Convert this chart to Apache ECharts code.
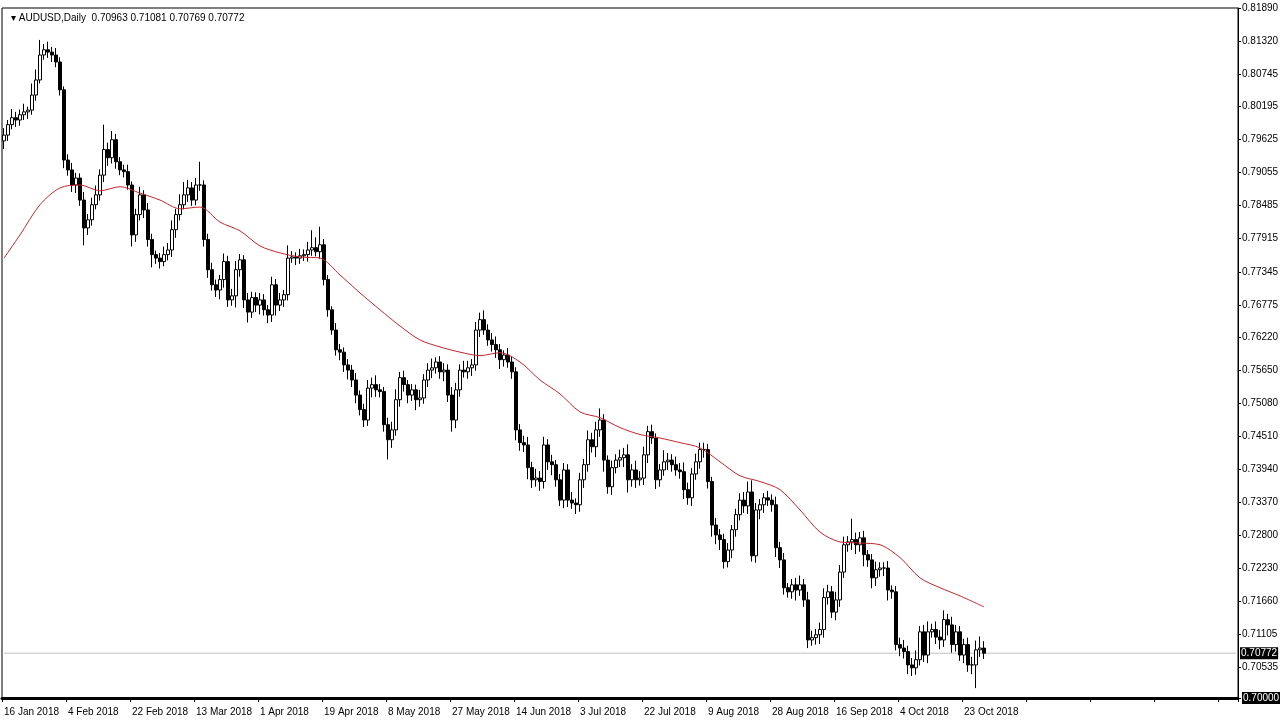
<!DOCTYPE html>
<html>
<head>
<meta charset="utf-8">
<script src="https://cdn.jsdelivr.net/npm/echarts@6/dist/echarts.min.js"></script>
<style>
  html, body { margin: 0; padding: 0; background: #fff; }
  #chart { width: 1280px; height: 720px; }
</style>
</head>
<body>
<div id="chart"></div>
<script>
// daily closes AUDUSD, 16 Jan 2018 onward
var closes = [
  0.7970,0.7988,0.8000,0.7996,0.8005, 0.8010,0.8013,0.8039,0.8065,0.8108,
  0.8117,0.8113,0.8108,0.8096,0.8048, 0.7927,0.7910,0.7884,0.7896,0.7858,
  0.7810,0.7824,0.7850,0.7867,0.7901, 0.7945,0.7931,0.7962,0.7924,0.7910,
  0.7907,0.7884,0.7798,0.7833,0.7867, 0.7841,0.7790,0.7764,0.7758,0.7752,
  0.7764,0.7772,0.7807,0.7833,0.7850, 0.7867,0.7879,0.7858,0.7884,0.7884,
  0.7790,0.7738,0.7712,0.7703,0.7721, 0.7752,0.7686,0.7693,0.7738,0.7755,
  0.7686,0.7665,0.7690,0.7677,0.7686, 0.7669,0.7660,0.7712,0.7677,0.7686,
  0.7695,0.7758,0.7760,0.7758,0.7762, 0.7764,0.7772,0.7776,0.7769,0.7781,
  0.7721,0.7669,0.7634,0.7600,0.7596, 0.7574,0.7565,0.7548,0.7522,0.7497,
  0.7479,0.7534,0.7540,0.7531,0.7528, 0.7471,0.7445,0.7462,0.7514,0.7552,
  0.7540,0.7522,0.7531,0.7514,0.7517, 0.7548,0.7565,0.7569,0.7579,0.7562,
  0.7565,0.7522,0.7479,0.7531,0.7565, 0.7562,0.7569,0.7574,0.7634,0.7652,
  0.7634,0.7617,0.7609,0.7600,0.7583, 0.7591,0.7579,0.7562,0.7462,0.7440,
  0.7436,0.7397,0.7376,0.7379,0.7373, 0.7436,0.7407,0.7402,0.7376,0.7341,
  0.7393,0.7341,0.7336,0.7333,0.7376, 0.7402,0.7445,0.7433,0.7462,0.7479,
  0.7410,0.7364,0.7397,0.7410,0.7414, 0.7419,0.7376,0.7393,0.7376,0.7379,
  0.7419,0.7459,0.7448,0.7376,0.7393, 0.7407,0.7410,0.7402,0.7393,0.7390,
  0.7359,0.7345,0.7386,0.7407,0.7428, 0.7428,0.7373,0.7298,0.7281,0.7273,
  0.7235,0.7255,0.7290,0.7316,0.7341, 0.7331,0.7355,0.7245,0.7324,0.7333,
  0.7345,0.7341,0.7333,0.7259,0.7238, 0.7190,0.7183,0.7195,0.7186,0.7195,
  0.7169,0.7100,0.7104,0.7109,0.7118, 0.7173,0.7183,0.7148,0.7169,0.7217,
  0.7264,0.7269,0.7273,0.7264,0.7276, 0.7247,0.7238,0.7207,0.7221,0.7224,
  0.7224,0.7186,0.7183,0.7092,0.7086, 0.7080,0.7057,0.7052,0.7066,0.7114,
  0.7074,0.7114,0.7118,0.7105,0.7100, 0.7135,0.7126,0.7092,0.7114,0.7074,
  0.7092,0.7057,0.7057,0.7083,0.7086, 0.70772
];
var firstOpen = 0.7960;
// wick lengths in pips above / below the candle body
var wickUp = [
  12,8,15,10,9,14,6,20,18,26, 10,14,9,12,8,6,10,12,9,8,
  14,10,12,16,10,43,12,15,10,8, 9,12,6,10,14,8,12,10,7,9,
  14,12,16,10,18,22,14,10,12,40, 8,10,12,9,8,14,10,12,15,10,
  8,12,10,9,12,10,8,14,10,12, 8,22,10,8,12,9,14,30,18,31,
  10,8,6,12,10,8,10,9,12,8, 10,14,12,16,10,8,12,14,18,10,
  12,8,10,9,14,10,12,16,8,10, 12,10,14,12,10,16,12,10,14,12,
  16,10,12,14,10,8,12,10,8,10, 12,14,10,16,12,14,10,12,8,10,
  12,10,14,8,12,10,16,12,14,20, 10,8,12,10,14,12,18,10,16,12,
  14,10,12,8,10,20,12,10,14,12, 16,12,10,14,12,12,10,8,12,10,
  10,12,8,10,12,14,18,20,12,10, 8,12,10,14,10,12,8,10,12,16,
  10,14,12,10,12,16,12,10,14,12, 14,10,36,12,10,12,8,10,14,10,
  10,12,8,10,12,14,10,12,16,10, 12,18,10,14,12,16,10,14,12,10,
  10,12,14,16,20,12
];
var wickDn = [
  14,10,8,12,10,9,12,8,10,6, 8,10,12,9,10,14,10,12,14,10,
  30,12,10,8,10,12,14,10,12,9, 10,8,20,12,10,14,12,22,10,12,
  8,10,12,14,10,8,12,10,9,10, 12,14,10,12,16,14,12,10,20,12,
  14,18,10,12,16,10,14,12,18,10, 12,10,8,12,10,9,12,10,8,12,
  10,12,8,10,14,12,16,12,14,10, 12,10,16,12,10,12,34,14,10,12,
  12,14,10,18,12,10,12,14,10,12, 16,12,20,14,12,10,12,14,10,12,
  8,10,12,14,16,12,10,12,18,14, 12,20,14,12,16,12,14,18,12,10,
  14,12,10,16,12,14,12,10,18,12, 20,12,14,10,12,16,22,12,14,10,
  12,14,10,16,12,10,14,12,10,12, 16,12,14,10,12,14,12,20,16,18,
  12,10,14,12,10,12,14,10,12,16, 14,10,12,16,14,12,10,12,18,10,
  12,14,10,12,16,14,12,10,14,12, 10,12,14,16,12,20,12,18,14,12,
  14,18,12,10,14,12,16,14,12,10, 12,14,10,12,16,12,18,14,12,10,
  14,12,16,40,12,10
];
// moving average (red line), read at sampled bars
var maPoints = [
  [0,0.7758],[4,0.7798],[9,0.7850],[14,0.7879],[19,0.7884],[24,0.7874],
  [29,0.7881],[34,0.7870],[39,0.7858],[44,0.7843],[49,0.7846],[54,0.7820],
  [59,0.7805],[64,0.7779],[69,0.7767],[74,0.7760],[79,0.7758],[84,0.7729],
  [89,0.7698],[94,0.7669],[99,0.7641],[104,0.7617],[109,0.7605],[114,0.7596],
  [119,0.7590],[124,0.7595],[129,0.7579],[134,0.7548],[139,0.7524],[144,0.7493],
  [149,0.7483],[154,0.7466],[159,0.7454],[164,0.7448],[169,0.7440],[174,0.7431],
  [179,0.7407],[184,0.7383],[189,0.7373],[194,0.7359],[199,0.7324],[204,0.7286],
  [209,0.7269],[214,0.7267],[219,0.7264],[224,0.7242],[229,0.7207],[234,0.7190],
  [239,0.7176],[245,0.7157]
];
var priceTicks = [0.70000,0.70535,0.71105,0.71660,0.72230,0.72800,0.73370,0.73940,
  0.74510,0.75080,0.75650,0.76220,0.76775,0.77345,0.77915,0.78485,0.79055,
  0.79625,0.80195,0.80745,0.81320,0.81890];

var months = ['Jan','Feb','Mar','Apr','May','Jun','Jul','Aug','Sep','Oct','Nov','Dec'];
var totalSlots = 309;
var dates = [];
var d = new Date(Date.UTC(2018, 0, 16));
while (dates.length < totalSlots) {
  if (d.getUTCDay() !== 6) {
    dates.push(d.getUTCDate() + ' ' + months[d.getUTCMonth()] + ' ' + d.getUTCFullYear());
  }
  d.setUTCDate(d.getUTCDate() + 1);
}

var candles = [];
for (var i = 0; i < closes.length; i++) {
  var o = i === 0 ? firstOpen : closes[i - 1];
  var c = closes[i];
  candles.push([o, c, Math.min(o, c) - wickDn[i] / 10000, Math.max(o, c) + wickUp[i] / 10000]);
}
var last = closes[closes.length - 1];
var bidLine = [[0, last], [totalSlots - 1, last]];

var font = 'Liberation Sans';
var chart = echarts.init(document.getElementById('chart'));
chart.setOption({
  animation: false,
  backgroundColor: '#fff',
  textStyle: { fontFamily: font },
  title: {
    text: '▾ AUDUSD,Daily  0.70963 0.71081 0.70769 0.70772',
    left: 6, top: 8,
    textStyle: { fontSize: 10, fontWeight: 'normal', color: '#000', fontFamily: font }
  },
  grid: { left: 2, right: 42, top: 8, bottom: 22, show: true, borderColor: '#000', borderWidth: 1,
    containLabel: false, outerBoundsMode: 'none' },
  xAxis: {
    type: 'category',
    data: dates,
    boundaryGap: true,
    axisLine: { lineStyle: { color: '#000', width: 3 } },
    axisTick: { show: true, interval: 15, length: 4, lineStyle: { color: '#000' } },
    axisLabel: { interval: 15, align: 'left', fontSize: 10, color: '#000', margin: 9,
      formatter: function (v, idx) { return idx < closes.length ? v : ''; } },
    splitLine: { show: false }
  },
  yAxis: {
    type: 'value',
    position: 'right',
    min: 0.7, max: 0.8189,
    axisLine: { show: true, lineStyle: { color: '#000' } },
    axisTick: { show: true, customValues: priceTicks, length: 3, lineStyle: { color: '#000' } },
    axisLabel: { customValues: priceTicks, fontSize: 10, color: '#000', margin: 4,
      formatter: function (v) { return v <= 0.7 ? '{b|0.70000}' : v.toFixed(5); },
      rich: { b: { backgroundColor: '#000', color: '#fff', fontSize: 10, padding: [1, 1] } } },
    splitLine: { show: false }
  },
  series: [
    {
      type: 'line',
      data: bidLine,
      showSymbol: false,
      silent: true,
      lineStyle: { color: '#c0c0c0', width: 1 },
      z: 1,
      endLabel: { show: true, formatter: last.toFixed(5), backgroundColor: '#000', color: '#fff',
        fontSize: 10, padding: [1, 1], distance: 4 }
    },
    {
      type: 'candlestick',
      data: candles,
      barWidth: 3,
      itemStyle: { color: '#fff', color0: '#000', borderColor: '#000', borderColor0: '#000', borderWidth: 1 }
    },
    {
      type: 'line',
      data: maPoints,
      showSymbol: false,
      smooth: 0.3,
      lineStyle: { color: '#c0282d', width: 1 },
      z: 3
    }
  ]
});
</script>
</body>
</html>
